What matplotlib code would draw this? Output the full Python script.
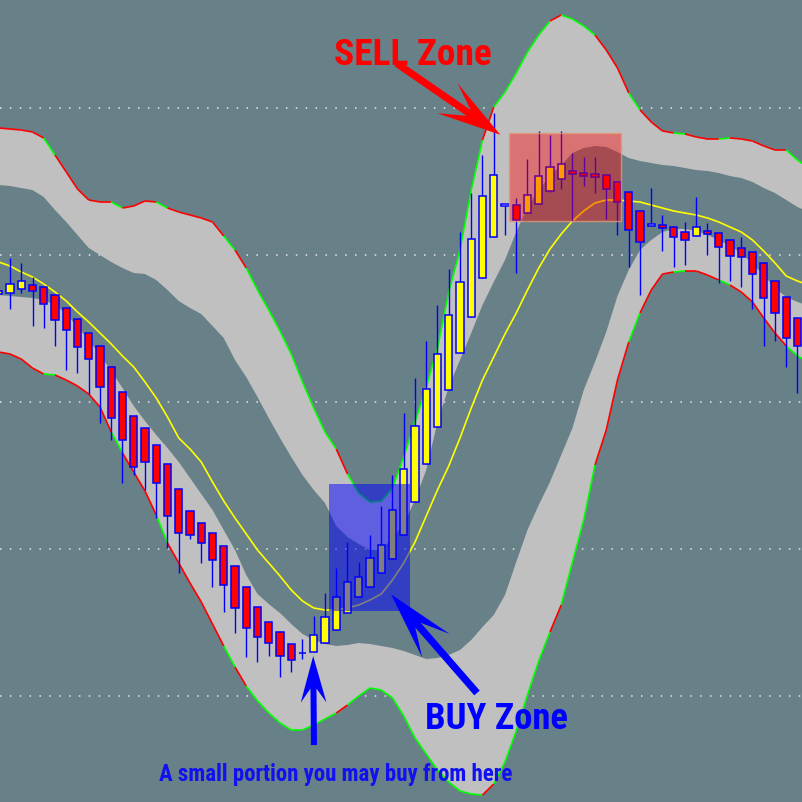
import os
import numpy as np
import matplotlib.pyplot as plt
from matplotlib import font_manager
from matplotlib.patches import Rectangle, FancyArrow
from matplotlib.collections import LineCollection

plt.rcParams['lines.scale_dashes'] = False

# candles, bar index -1 .. 70 (price in chart points)
bars = np.arange(-1, 71)
opens = [506, 507, 511, 515, 513, 505, 492, 481, 467, 454, 433, 408, 384, 372, 355, 336, 311, 289,
         277, 267, 254, 234, 213, 193, 178, 168, 156, 147, 148, 157, 170, 187, 203, 213, 227, 241,
         265, 298, 336, 373, 410, 447, 483, 522, 563, 594, 595, 587, 596, 609, 621, 629, 627, 626,
         625, 618, 608, 589, 574, 575, 573, 568, 564, 569, 567, 560, 552, 548, 537, 519, 503, 482]
highs = [511, 542, 537, 523, 513, 505, 492, 481, 467, 454, 433, 408, 384, 372, 355, 336, 311, 289,
         277, 267, 254, 234, 213, 193, 178, 168, 156, 161, 184, 207, 232, 258, 238, 265, 294, 325,
         387, 422, 459, 495, 531, 568, 607, 645, 687, 596, 602, 641, 669, 665, 669, 647, 643, 643,
         625, 618, 608, 589, 612, 585, 573, 578, 603, 577, 567, 560, 563, 548, 537, 519, 503, 482]
lows = [504, 491, 507, 474, 472, 454, 430, 427, 406, 377, 360, 317, 325, 310, 282, 252, 227, 261,
        237, 213, 188, 167, 143, 138, 144, 123, 128, 141, 148, 157, 170, 187, 203, 213, 227, 241,
        265, 298, 336, 373, 410, 447, 483, 522, 563, 565, 527, 587, 596, 608, 611, 579, 614, 607,
        581, 565, 533, 505, 574, 549, 533, 535, 564, 545, 517, 519, 513, 491, 454, 459, 433, 407]
closes = [509, 516, 519, 509, 496, 480, 470, 453, 441, 413, 382, 360, 333, 338, 317, 284, 267, 265,
          257, 240, 215, 192, 172, 163, 157, 144, 140, 147, 165, 183, 203, 218, 223, 242, 255, 290,
          331, 374, 411, 446, 485, 518, 561, 604, 625, 596, 580, 605, 624, 633, 636, 626, 624, 623,
          611, 598, 570, 558, 576, 572, 563, 560, 573, 566, 553, 544, 543, 526, 502, 487, 462, 454]

# band indicator, one value per bar -1 .. 71
band_x = np.arange(-1, 72)
upper_top = [672, 671, 670, 668, 662, 645, 628, 611, 600, 598, 598, 592, 594, 599, 598, 592, 588, 585,
             582, 578, 564, 550, 532, 510, 490, 469, 446, 418, 392, 368, 351, 326, 307, 298, 299, 312,
             343, 378, 413, 452, 508, 550, 610, 660, 693, 708, 727, 748, 765, 779, 785, 781, 774, 765,
             750, 732, 707, 690, 678, 669, 667, 666, 663, 661, 661, 662, 661, 659, 654, 650, 650, 640, 632]
upper_inner = [615, 614, 612, 610, 603, 590, 578, 565, 552, 545, 538, 532, 527, 526, 520, 510, 499, 492,
               486, 474, 462, 440, 423, 403, 382, 362, 343, 325, 310, 297, 274, 263, 256, 250, 250, 262,
               276, 300, 330, 378, 413, 440, 467, 495, 518, 540, 568, 593, 610, 624, 635, 647, 652, 654,
               653, 648, 642, 639, 637, 635, 634, 632, 630, 629, 627, 624, 622, 618, 612, 607, 600, 593, 588]
lower_inner = [505, 504, 503, 502, 500, 495, 486, 473, 460, 445, 429, 412, 394, 379, 365, 352, 338, 322,
               306, 290, 270, 250, 225, 206, 196, 187, 176, 166, 160, 156, 154, 155, 157, 156, 154, 152,
               149, 145, 141, 142, 145, 150, 160, 173, 185, 205, 238, 270, 295, 318, 345, 372, 410, 438,
               468, 504, 530, 550, 560, 568, 571, 571, 569, 565, 560, 554, 547, 536, 525, 512, 503, 498, 494]
lower_bottom = [448, 446, 441, 432, 426, 425, 420, 414, 406, 393, 368, 347, 328, 309, 285, 257, 237, 217,
                198, 176, 154, 133, 114, 99, 87, 77, 70, 70, 75, 81, 87, 95, 104, 112, 110, 102,
                84, 62, 46, 30, 18, 9, 6, 5, 16, 38, 69, 105, 139, 168, 195, 238, 280, 335,
                370, 420, 458, 487, 510, 526, 528, 529, 529, 525, 520, 515, 508, 498, 482, 467, 454, 444, 438]
middle = [538, 534, 528, 523, 516, 508, 499, 488, 478, 467, 456, 444, 433, 418, 402, 383, 362, 351,
          338, 318, 299, 282, 266, 250, 237, 224, 210, 199, 192, 190, 190, 192, 195, 200, 206, 220,
          237, 258, 284, 310, 334, 362, 392, 420, 443, 466, 487, 510, 532, 551, 566, 579, 589, 597,
          600, 600, 599, 598, 595, 592, 589, 587, 585, 582, 578, 573, 568, 560, 549, 537, 524, 519, 515]
# colour of each band segment: r = down, g = up
trend = "rrrrgrrrrr" "grrrgrrrrr" "grgggggggg" "rggggggggg" "gggrgggggr" "gggrrrgrrr" "grrrgrrrrr" "gg"

grid_levels = [692, 545, 398, 251, 104]

bg = '#688088'
band_grey = '#C0C0C0'


def narrow_font():
    # look for a condensed bold face among the installed fonts
    prefs = ['liberationsansnarrow-bold', 'robotocondensed-bold', 'opensans_condensed-bold',
             'opensanscondensed-bold', 'notosans-condensedbold', 'dejavusanscondensed-bold',
             'condensedbold', 'condensed-bold', 'narrow-bold', 'condensed']
    files = [f.fname for f in font_manager.fontManager.ttflist]
    for p in prefs:
        for fn in files:
            base = os.path.basename(fn).lower().replace(' ', '')
            if p in base and 'italic' not in base and 'oblique' not in base:
                return font_manager.FontProperties(fname=fn)
    return font_manager.FontProperties(family='DejaVu Sans', weight='bold')


fig = plt.figure(figsize=(8.03, 8.02), dpi=100)
fig.patch.set_facecolor(bg)
ax = fig.add_axes([0, 0, 1, 1])
ax.set_axis_off()
ax.set_xlim(-0.889, 70.49)
ax.set_ylim(-2, 800)

for lv in grid_levels:
    ax.axhline(lv, color='#E8E8E8', lw=1.1, ls=(0, (1.1, 6.0)), zorder=1)

ax.fill_between(band_x, upper_top, upper_inner, color=band_grey, lw=0, zorder=2)
ax.fill_between(band_x, lower_inner, lower_bottom, color=band_grey, lw=0, zorder=2)

seg_cols = ['#FF0000' if t == 'r' else '#00FF00' for t in trend]
for curve in (upper_top, lower_bottom):
    pts = np.column_stack([band_x, curve])
    segs = np.stack([pts[:-1], pts[1:]], axis=1)
    ax.add_collection(LineCollection(segs, colors=seg_cols, linewidths=1.2, zorder=3))

ax.plot(band_x, middle, color='#FFFF00', lw=1.2, zorder=3)

# candles
o = np.array(opens)
c = np.array(closes)
body_cols = []
for oo, cc in zip(o, c):
    if abs(cc - oo) <= 2:
        body_cols.append('white')
    elif cc > oo:
        body_cols.append('#FFFF00')
    else:
        body_cols.append('#FF0000')
ax.vlines(bars, lows, highs, color='#0000FF', lw=1.0, zorder=4)
ax.bar(bars, np.abs(c - o), bottom=np.minimum(o, c), width=0.66, color=body_cols,
       edgecolor='#0000FF', linewidth=1.1, zorder=5)

# zones
ax.add_patch(Rectangle((44.36, 579), 9.95, 88, facecolor=(1, 0, 0, 0.4),
                       edgecolor=(0.9, 0.6, 0.45, 0.8), lw=1.0, zorder=6))
ax.add_patch(Rectangle((28.36, 189), 7.2, 127, facecolor=(0, 0, 1, 0.5), lw=0, zorder=6))


# arrows (axes fraction)
def arrow(tail, tip, color, width, head_w, head_len, overhang):
    ax.add_patch(FancyArrow(tail[0], tail[1], tip[0] - tail[0], tip[1] - tail[1],
                            width=width, head_width=head_w, head_length=head_len,
                            length_includes_head=True, overhang=overhang,
                            transform=ax.transAxes, color=color, lw=0, zorder=7))


arrow((0.391, 0.071), (0.390, 0.182), '#0000FF', 0.0075, 0.032, 0.058, 0.3)
arrow((0.594, 0.136), (0.487, 0.259), '#0000FF', 0.009, 0.045, 0.085, 0.4)
arrow((0.494, 0.921), (0.623, 0.832), '#FF0000', 0.009, 0.045, 0.08, 0.4)

fp = narrow_font()


def fit_text(x, y, s, width_px, color):
    t = ax.text(x, y, s, transform=ax.transAxes, ha='center', va='baseline', color=color,
                fontproperties=fp, fontsize=28, zorder=8)
    fig.canvas.draw()
    w = t.get_window_extent().width
    t.set_fontsize(min(34, 28 * width_px / w))
    return t


fit_text(0.514, 0.919, 'SELL Zone', 158, '#FF0000')
fit_text(0.618, 0.091, 'BUY Zone', 143, '#0000FF')
fit_text(0.418, 0.026, 'A small portion you may buy from here', 355, '#1010F0')

fig.savefig('out.png', dpi=100, facecolor=bg)
